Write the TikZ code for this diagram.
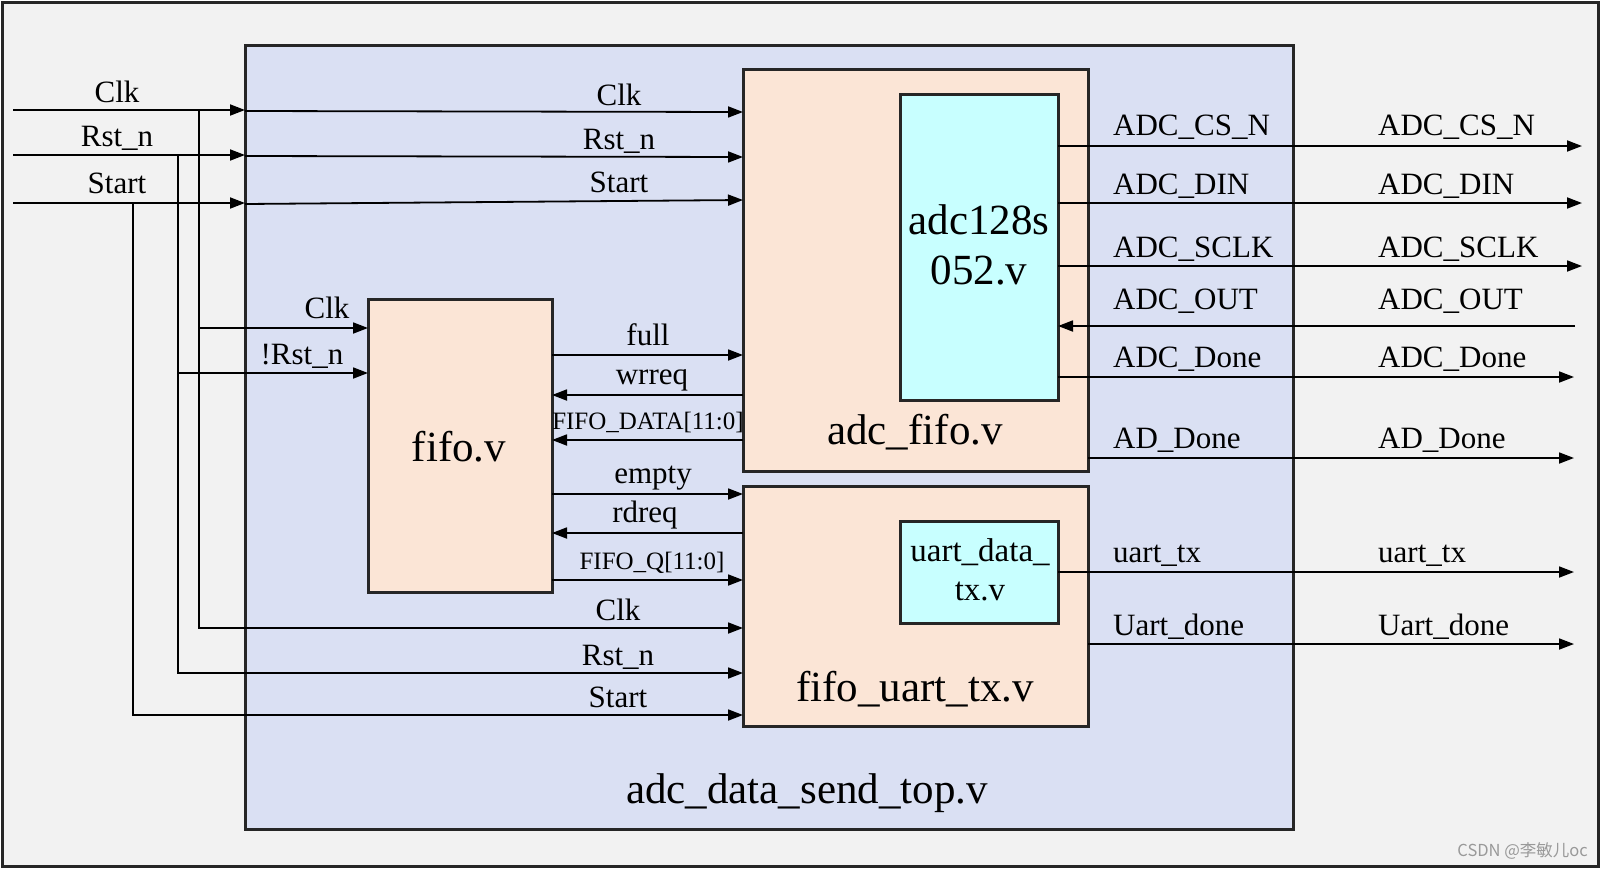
\documentclass[tikz,border=0pt]{standalone}
\usepackage{fontspec}
\setmainfont{Liberation Serif}
\newfontfamily\cjk{Noto Sans CJK SC}
\usetikzlibrary{arrows.meta}
\definecolor{bgF}{HTML}{F2F2F2}
\definecolor{blueF}{HTML}{DAE0F3}
\definecolor{peachF}{HTML}{FBE5D6}
\definecolor{cyanF}{HTML}{C8FFFF}
\begin{document}
\begin{tikzpicture}[x=1pt,y=-1pt,
  sig/.style={line width=1.8pt},
  arr/.style={sig,-{Triangle[length=15pt,width=11pt]}},
  blk/.style={draw=black!85, line width=3pt, anchor=north west, inner sep=0pt, outer sep=0pt},
  lab/.style={font=\fontsize{31}{36}\selectfont, inner sep=0pt, anchor=base},
  labw/.style={lab, anchor=base west},
  sml/.style={font=\fontsize{25}{30}\selectfont, inner sep=0pt, anchor=base},
  big/.style={font=\fontsize{43}{50}\selectfont, inner sep=0pt, anchor=base},
  mid/.style={font=\fontsize{33}{39}\selectfont, inner sep=0pt, anchor=base}]
\useasboundingbox (0,0) rectangle (1602,868);
% boxes
\node[blk, fill=bgF, minimum width=1596pt, minimum height=864pt] (frame) at (2,2) {};
\node[blk, fill=blueF, minimum width=1048pt, minimum height=784pt] (top) at (245,45) {};
\node[blk, fill=peachF, minimum width=345pt, minimum height=402pt] (adcfifo) at (743,69) {};
\node[blk, fill=cyanF, minimum width=158pt, minimum height=306pt] (adc) at (900,94) {};
\node[blk, fill=peachF, minimum width=345pt, minimum height=240pt] (uarttx) at (743,486) {};
\node[blk, fill=cyanF, minimum width=158pt, minimum height=102pt] (uartdata) at (900,521) {};
\node[blk, fill=peachF, minimum width=184pt, minimum height=293pt] (fifo) at (368,299) {};
% box titles
\node[big] (tFifo) at (459,461) {fifo.v};
\node[big] (tAdcFifo) at (915,444) {adc\_fifo.v};
\node[big] (tAdc1) at (979,234) {adc128s};
\node[big] (tAdc2) at (979,284) {052.v};
\node[big] (tUartTx) at (915,701) {fifo\_uart\_tx.v};
\node[mid] (tUd1) at (980,561) {uart\_data\_};
\node[mid] (tUd2) at (980,600) {tx.v};
\node[big] (tTop) at (807,803) {adc\_data\_send\_top.v};
% input coordinates
\coordinate (iClk) at (13,110);
\coordinate (iRst) at (13,155);
\coordinate (iStart) at (13,203);
\coordinate (vClk) at (199,110);
\coordinate (vRst) at (178,155);
\coordinate (vStart) at (133,203);
% inputs
\draw[arr] (iClk) -- (top.west |- iClk);
\draw[arr] (iRst) -- (top.west |- iRst);
\draw[arr] (iStart) -- (top.west |- iStart);
\draw[arr] (top.west |- 0,111) -- (adcfifo.west |- 0,112);
\draw[arr] (top.west |- 0,156) -- (adcfifo.west |- 0,157);
\draw[arr] (top.west |- 0,204) -- (adcfifo.west |- 0,200);
\draw[arr] (vClk) |- (uarttx.west |- 0,628);
\draw[arr] (vRst) |- (uarttx.west |- 0,673);
\draw[arr] (vStart) |- (uarttx.west |- 0,715);
\draw[arr] (vClk |- 0,328) -- (fifo.west |- 0,328);
\draw[arr] (vRst |- 0,373) -- (fifo.west |- 0,373);
% fifo <-> modules
\draw[arr] (fifo.east |- 0,355) -- (adcfifo.west |- 0,355);
\draw[arr] (adcfifo.west |- 0,395) -- (fifo.east |- 0,395);
\draw[arr] (adcfifo.west |- 0,440) -- (fifo.east |- 0,440);
\draw[arr] (fifo.east |- 0,494) -- (uarttx.west |- 0,494);
\draw[arr] (uarttx.west |- 0,533) -- (fifo.east |- 0,533);
\draw[arr] (fifo.east |- 0,580) -- (uarttx.west |- 0,580);
% outputs
\coordinate (oCs) at (1582,146);
\coordinate (oDin) at (1582,203);
\coordinate (oSclk) at (1582,266);
\coordinate (oOut) at (1575,326);
\coordinate (oAdcDone) at (1574,377);
\coordinate (oAdDone) at (1574,458);
\coordinate (oTx) at (1574,572);
\coordinate (oUdone) at (1574,644);
\draw[arr] (adc.east |- oCs) -- (oCs);
\draw[arr] (adc.east |- oDin) -- (oDin);
\draw[arr] (adc.east |- oSclk) -- (oSclk);
\draw[arr] (oOut) -- (adc.east |- oOut);
\draw[arr] (adc.east |- oAdcDone) -- (oAdcDone);
\draw[arr] (adcfifo.east |- oAdDone) -- (oAdDone);
\draw[arr] (uartdata.east |- oTx) -- (oTx);
\draw[arr] (uarttx.east |- oUdone) -- (oUdone);
% labels left
\node[lab] (lClkA) at (117,102) {Clk};
\node[lab] (lRstA) at (117,146) {Rst\_n};
\node[lab] (lStartA) at (117,193) {Start};
\node[lab] (lClkB) at (619,105) {Clk};
\node[lab] (lRstB) at (619,149) {Rst\_n};
\node[lab] (lStartB) at (619,192) {Start};
\node[lab] (lClkF) at (327,318) {Clk};
\node[lab] (lRstF) at (302,364) {!Rst\_n};
\node[lab] (lFull) at (648,345) {full};
\node[lab] (lWrreq) at (652,384) {wrreq};
\node[sml] (lData) at (648,429) {FIFO\_DATA[11:0]};
\node[lab] (lEmpty) at (653,483) {empty};
\node[lab] (lRdreq) at (645,522) {rdreq};
\node[sml] (lQ) at (652,569) {FIFO\_Q[11:0]};
\node[lab] (lClkC) at (618,620) {Clk};
\node[lab] (lRstC) at (618,665) {Rst\_n};
\node[lab] (lStartC) at (618,707) {Start};
% labels right
\node[labw] (rCs1) at (1113,135) {ADC\_CS\_N};
\node[labw] (rDin1) at (1113,194) {ADC\_DIN};
\node[labw] (rSclk1) at (1113,257) {ADC\_SCLK};
\node[labw] (rOut1) at (1113,309) {ADC\_OUT};
\node[labw] (rAdcD1) at (1113,367) {ADC\_Done};
\node[labw] (rAdD1) at (1113,448) {AD\_Done};
\node[labw] (rTx1) at (1113,562) {uart\_tx};
\node[labw] (rUd1) at (1113,635) {Uart\_done};
\node[labw] (rCs2) at (1378,135) {ADC\_CS\_N};
\node[labw] (rDin2) at (1378,194) {ADC\_DIN};
\node[labw] (rSclk2) at (1378,257) {ADC\_SCLK};
\node[labw] (rOut2) at (1378,309) {ADC\_OUT};
\node[labw] (rAdcD2) at (1378,367) {ADC\_Done};
\node[labw] (rAdD2) at (1378,448) {AD\_Done};
\node[labw] (rTx2) at (1378,562) {uart\_tx};
\node[labw] (rUd2) at (1378,635) {Uart\_done};
% watermark
\node[font=\cjk\fontsize{16.5}{20}\selectfont, text=black!40, inner sep=0pt, anchor=base east] (wm) at (1588,856) {CSDN @李敏儿oc};
\end{tikzpicture}
\end{document}
